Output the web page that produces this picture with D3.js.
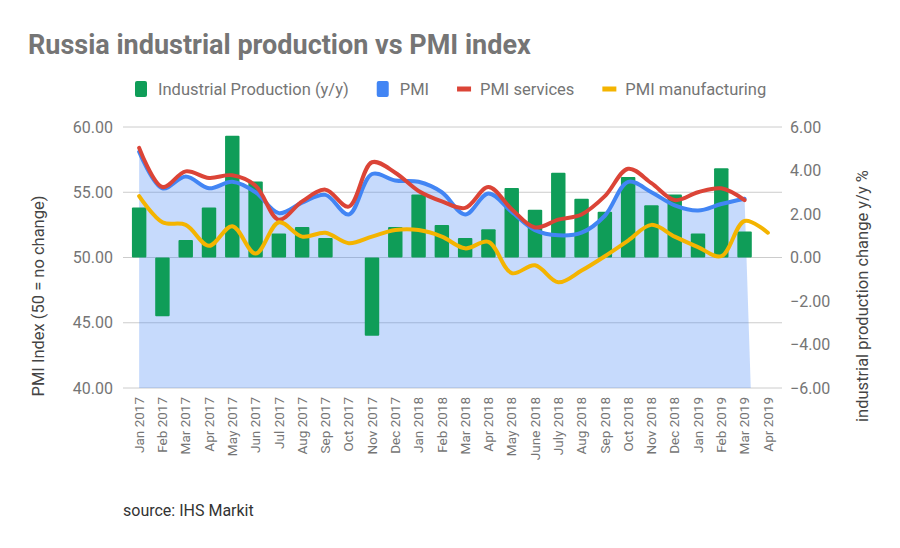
<!DOCTYPE html>
<html>
<head>
<meta charset="utf-8">
<script src="https://cdn.jsdelivr.net/npm/d3@7"></script>
<style>
  body { margin: 0; background: #fff; }
  text { font-family: Roboto, "Noto Sans", sans-serif; }
</style>
</head>
<body>
<svg width="900" height="548"></svg>
<script>
// data
var months = ["Jan 2017", "Feb 2017", "Mar 2017", "Apr 2017", "May 2017", "Jun 2017", "Jul 2017",
  "Aug 2017", "Sep 2017", "Oct 2017", "Nov 2017", "Dec 2017", "Jan 2018", "Feb 2018", "Mar 2018",
  "Apr 2018", "May 2018", "June 2018", "July 2018", "Aug 2018", "Sep 2018", "Oct 2018", "Nov 2018",
  "Dec 2018", "Jan 2019", "Feb 2019", "Mar 2019", "Apr 2019"];
var industrialProduction = [2.3, -2.7, 0.8, 2.3, 5.6, 3.5, 1.1, 1.4, 0.9, 0.0, -3.6, 1.4, 2.9, 1.5,
  0.9, 1.3, 3.2, 2.2, 3.9, 2.7, 2.1, 3.7, 2.4, 2.9, 1.1, 4.1, 1.2, null];
var pmi = [58.1, 55.3, 56.2, 55.3, 55.8, 55.0, 53.4, 54.2, 54.8, 53.3, 56.4, 55.9, 55.8, 55.0, 53.3,
  54.9, 53.5, 52.1, 51.7, 51.9, 53.2, 55.8, 55.0, 54.0, 53.6, 54.1, 54.5, null];
var pmiServices = [58.4, 55.4, 56.6, 56.1, 56.3, 55.5, 52.9, 54.3, 55.2, 53.9, 57.3, 56.5, 55.1, 54.3,
  53.8, 55.4, 53.7, 52.3, 52.9, 53.3, 54.7, 56.8, 55.7, 54.4, 55.0, 55.3, 54.4, null];
var pmiManufacturing = [54.7, 52.7, 52.5, 50.9, 52.4, 50.3, 52.7, 51.6, 51.9, 51.1, 51.6, 52.1, 52.1,
  51.6, 50.7, 51.2, 48.8, 49.4, 48.1, 49.0, 50.1, 51.3, 52.5, 51.6, 50.8, 50.1, 52.8, 51.9];
var pmiTicks = [40, 45, 50, 55, 60];
var ipTicks = [-6, -4, -2, 0, 2, 4, 6];

var green = "#0f9d58", blue = "#4285f4", red = "#db4437", yellow = "#f4b400";
var grey = "#757575";

var svg = d3.select("svg");
var plotLeft = 127.5, plotRight = 779.5, plotTop = 127, plotBottom = 388;

var x = d3.scaleBand().domain(months).range([plotLeft, plotRight]);
var cx = d => x(d) + x.bandwidth() / 2;
var yPmi = d3.scaleLinear().domain([40, 60]).range([plotBottom, plotTop]);
var yIp = d3.scaleLinear().domain([-6, 6]).range([plotBottom, plotTop]);

// title
svg.append("text")
    .attr("x", 28).attr("y", 54)
    .attr("font-size", 27).attr("font-weight", "bold").attr("fill", grey)
    .text("Russia industrial production vs PMI index");

// gridlines
svg.append("g")
    .selectAll("line")
    .data(pmiTicks)
    .enter().append("line")
    .attr("x1", 123).attr("x2", 782)
    .attr("y1", d => yPmi(d)).attr("y2", d => yPmi(d))
    .attr("stroke", "#cccccc").attr("stroke-width", 1);

// left axis labels
svg.append("g")
    .selectAll("text")
    .data(pmiTicks)
    .enter().append("text")
    .attr("x", 113).attr("y", d => yPmi(d)).attr("dy", "0.35em")
    .attr("text-anchor", "end").attr("font-size", 16).attr("fill", grey)
    .text(d => d3.format(".2f")(d));

// right axis labels
svg.append("g")
    .selectAll("text")
    .data(ipTicks)
    .enter().append("text")
    .attr("x", 790).attr("y", d => yIp(d)).attr("dy", "0.35em")
    .attr("font-size", 16).attr("fill", grey)
    .text(d => d3.format(".2f")(d));

// axis titles
svg.append("text")
    .attr("transform", "translate(38,296) rotate(-90)")
    .attr("dy", "0.35em")
    .attr("text-anchor", "middle").attr("font-size", 16.5).attr("fill", "#444")
    .text("PMI Index (50 = no change)");
svg.append("text")
    .attr("transform", "translate(862,296) rotate(-90)")
    .attr("dy", "0.35em")
    .attr("text-anchor", "middle").attr("font-size", 16.5).attr("fill", "#444")
    .text("industrial production change y/y %");

// x labels
svg.append("g")
    .selectAll("text")
    .data(months)
    .enter().append("text")
    .attr("transform", d => "translate(" + cx(d) + ",397) rotate(-90)")
    .attr("dy", "0.35em").attr("text-anchor", "end")
    .attr("font-size", 13.5).attr("fill", grey)
    .text(d => d);

svg.append("defs").append("clipPath").attr("id", "plot")
    .append("rect").attr("x", 100).attr("y", plotTop).attr("width", 700).attr("height", plotBottom - plotTop);

var curve = d3.curveCatmullRom.alpha(0.5);

// PMI area: smooth top over the known months, then a straight drop to zero
// for the empty last month (clipped at the bottom like the original)
var pmiPts = pmi.map((v, i) => [cx(months[i]), v]).filter(p => p[1] != null);
var lastMonth = months[months.length - 1];
var areaPath = d3.line().x(p => p[0]).y(p => yPmi(p[1])).curve(curve)(pmiPts)
    + "L" + cx(lastMonth) + "," + yPmi(0)
    + "L" + cx(lastMonth) + "," + plotBottom
    + "L" + pmiPts[0][0] + "," + plotBottom + "Z";
svg.append("path")
    .attr("clip-path", "url(#plot)")
    .attr("d", areaPath)
    .attr("fill", blue).attr("fill-opacity", 0.3);

// industrial production bars
var barW = x.bandwidth() * 0.62;
svg.append("g")
    .selectAll("rect")
    .data(industrialProduction.map((v, i) => ({ m: months[i], v: v })).filter(d => d.v != null))
    .enter().append("rect")
    .attr("x", d => cx(d.m) - barW / 2)
    .attr("width", barW)
    .attr("y", d => yIp(Math.max(0, d.v)))
    .attr("height", d => Math.abs(yIp(d.v) - yIp(0)))
    .attr("rx", 1)
    .attr("fill", green);

// lines
function drawLine(values, color) {
    var line = d3.line()
        .defined(d => d != null)
        .x((d, i) => cx(months[i]))
        .y(d => yPmi(d))
        .curve(curve);
    svg.append("path")
        .datum(values)
        .attr("d", line)
        .attr("fill", "none")
        .attr("stroke", color).attr("stroke-width", 4)
        .attr("stroke-linejoin", "round").attr("stroke-linecap", "round");
}
drawLine(pmi, blue);
drawLine(pmiServices, red);
drawLine(pmiManufacturing, yellow);

// legend
var legendItems = [
    { name: "Industrial Production (y/y)", color: green, type: "box" },
    { name: "PMI", color: blue, type: "box" },
    { name: "PMI services", color: red, type: "line" },
    { name: "PMI manufacturing", color: yellow, type: "line" }
];
var lx = 135, ly = 89;
legendItems.forEach(function (item) {
    var g = svg.append("g");
    if (item.type === "box") {
        g.append("rect").attr("x", lx).attr("y", ly - 8).attr("width", 12).attr("height", 16)
            .attr("rx", 2).attr("fill", item.color);
    } else {
        g.append("rect").attr("x", lx).attr("y", ly - 2.5).attr("width", 14).attr("height", 5)
            .attr("fill", item.color);
    }
    var t = g.append("text")
        .attr("x", lx + 23).attr("y", ly).attr("dy", "0.35em")
        .attr("font-size", 16.5).attr("fill", grey)
        .text(item.name);
    lx += 23 + t.node().getComputedTextLength() + 28;
});

// source note
svg.append("text")
    .attr("x", 123).attr("y", 516)
    .attr("font-size", 16).attr("fill", "#333")
    .text("source: IHS Markit");
</script>
</body>
</html>
